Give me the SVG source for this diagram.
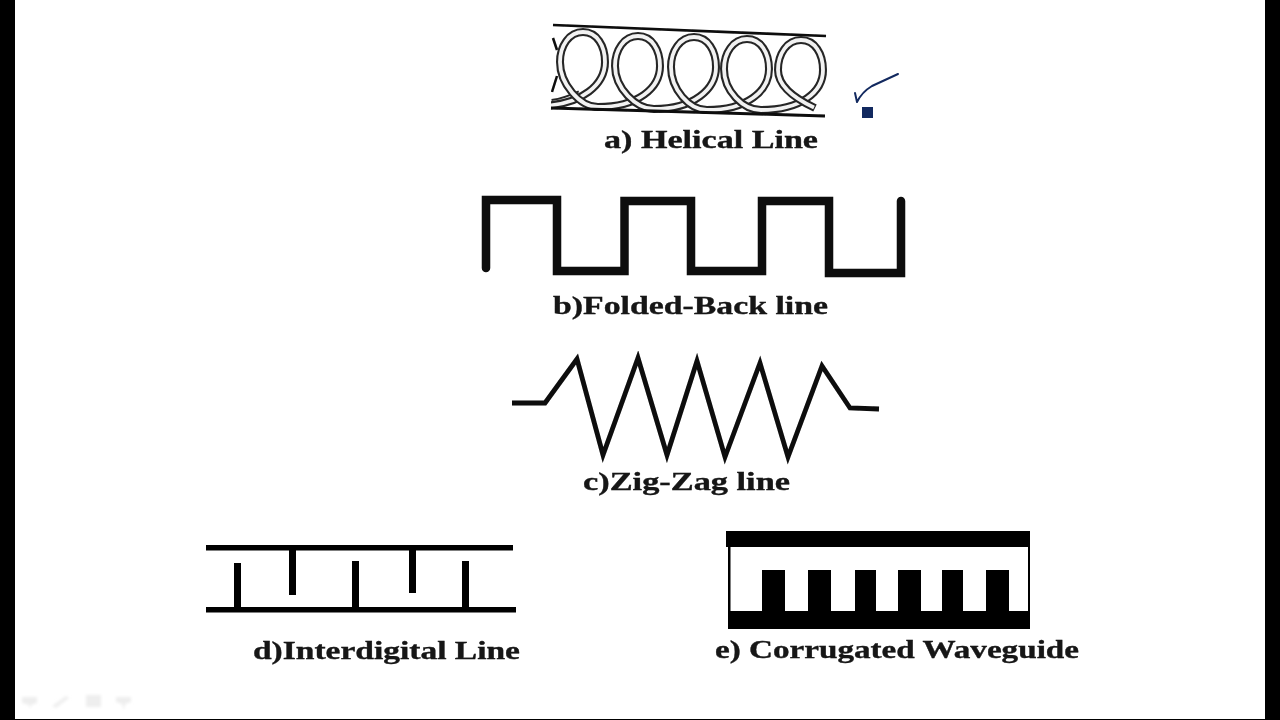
<svg xmlns="http://www.w3.org/2000/svg" width="1280" height="720" viewBox="0 0 1280 720">
<style>
.lbl{font-family:"Liberation Serif","Times New Roman",serif;font-weight:700;font-size:25px;fill:#141414;stroke:#141414;stroke-width:.35}
.line{fill:none;stroke:#0a0a0a;stroke-linejoin:miter}
.solid{fill:#050505}
.o{fill:none;stroke:#262626;stroke-width:8}
.i{fill:none;stroke:#f2f2f2;stroke-width:3.8}
.icon{fill:#eeeeee}
</style>
<defs>
<filter id="soft" x="-5%" y="-5%" width="110%" height="110%"><feGaussianBlur stdDeviation="0.55"/></filter>
<filter id="softer" x="-30%" y="-30%" width="160%" height="160%"><feGaussianBlur stdDeviation="1.6"/></filter>
<clipPath id="coilclip"><rect x="551" y="20" width="285" height="100"/></clipPath>
</defs>
<rect width="1280" height="720" fill="#ffffff"/>
<rect x="0" y="0" width="15" height="720" fill="#000"/>
<rect x="1265" y="0" width="15" height="720" fill="#000"/>
<rect x="0" y="719" width="1280" height="1" fill="#000"/>
<g id="footer-icons" filter="url(#softer)">
<path class="icon" d="M22 697h15v6l-6 2-1 4-1-4-7-2z"/>
<path class="icon" d="M52 706l14-10 3 2-13 10z"/>
<rect class="icon" x="86" y="695" width="15" height="12"/>
<path class="icon" d="M116 697h15v5l-6 2-1 6-2-6-6-2z"/>
</g>
<g id="helical" filter="url(#soft)">
<g clip-path="url(#coilclip)">
<path class="line" stroke-width="2.500" d="M553 38L557 50M557 76L552 92"/>
<path class="o" d="M552 103Q565 101 580 94"/><path class="i" d="M552 103Q565 101 580 94"/>
<path class="o" d="M560 62C560 46 569 32 583 32C597 32 605 46 605 62C605 84 583 104 543 106"/><path class="i" d="M560 62C560 46 569 32 583 32C597 32 605 46 605 62C605 84 583 104 543 106"/>
<path class="o" d="M615 66C615 50 624 36 638 36C652 36 660 50 660 66C660 88 638 107 598 107C580 107 560 84 560 62"/><path class="i" d="M615 66C615 50 624 36 638 36C652 36 660 50 660 66C660 88 638 107 598 107C580 107 560 84 560 62"/>
<path class="o" d="M671 67C671 51 680 37 694 37C708 37 716 51 716 67C716 89 694 109 654 109C636 109 615 88 615 66"/><path class="i" d="M671 67C671 51 680 37 694 37C708 37 716 51 716 67C716 89 694 109 654 109C636 109 615 88 615 66"/>
<path class="o" d="M724 69C724 53 733 39 747 39C761 39 769 53 769 69C769 91 747 110 707 110C689 110 671 89 671 67"/><path class="i" d="M724 69C724 53 733 39 747 39C761 39 769 53 769 69C769 91 747 110 707 110C689 110 671 89 671 67"/>
<path class="o" d="M778 70C778 54 787 40 801 40C815 40 823 54 823 70C823 92 801 110 761 110C743 110 724 91 724 69"/><path class="i" d="M778 70C778 54 787 40 801 40C815 40 823 54 823 70C823 92 801 110 761 110C743 110 724 91 724 69"/>
<path class="o" d="M778 70C778 88 798 100 815 108"/><path class="i" d="M778 70C778 88 798 100 814 107.500"/>
</g>
<path class="line" stroke-width="2.600" d="M553 25L826 36"/>
<path class="line" stroke-width="3" d="M551 108L825 116"/>
<text class="lbl" x="604" y="148" textLength="214" lengthAdjust="spacingAndGlyphs">a) Helical Line</text>
</g>
<g id="pen-mark">
<path d="M898 74L872 86Q862 92 857 102L855 93" fill="none" stroke="#12295f" stroke-width="2" stroke-linecap="round" stroke-linejoin="round"/>
<rect x="862" y="107" width="11" height="11" fill="#12295f"/>
</g>
<g id="folded-back" filter="url(#soft)">
<path class="line" stroke-width="8.500" stroke-linecap="round" d="M486 268V200H557V271H624.500V201H691V271H762V201H829V273H901V201"/>
<text class="lbl" x="553" y="314" textLength="275" lengthAdjust="spacingAndGlyphs">b)Folded-Back line</text>
</g>
<g id="zigzag" filter="url(#soft)">
<path class="line" stroke-width="4.800" stroke-linejoin="round" d="M512 403H545L577 359L603 455L638 358L667 455L697 361L725 457L760 363L788 457L822 366L850 408L879 409"/>
<text class="lbl" x="583" y="490" textLength="207" lengthAdjust="spacingAndGlyphs">c)Zig-Zag line</text>
</g>
<g id="interdigital" filter="url(#soft)">
<rect class="solid" x="206" y="545" width="307" height="5.500"/>
<rect class="solid" x="206" y="607" width="310" height="5.500"/>
<rect class="solid" x="234" y="563" width="7" height="45"/>
<rect class="solid" x="289" y="549" width="7" height="46"/>
<rect class="solid" x="352" y="561" width="7" height="47"/>
<rect class="solid" x="409" y="549" width="7" height="44"/>
<rect class="solid" x="462" y="561" width="7" height="47"/>
<text class="lbl" x="253" y="658.500" textLength="267" lengthAdjust="spacingAndGlyphs">d)Interdigital Line</text>
</g>
<g id="corrugated" filter="url(#soft)">
<rect class="solid" x="726" y="531" width="304" height="16"/>
<rect class="solid" x="728" y="545" width="2.500" height="68"/>
<rect class="solid" x="1028" y="545" width="2" height="68"/>
<rect class="solid" x="728" y="611" width="302" height="18"/>
<rect class="solid" x="762" y="570" width="23" height="43"/>
<rect class="solid" x="808" y="570" width="23" height="43"/>
<rect class="solid" x="855" y="570" width="21" height="43"/>
<rect class="solid" x="898" y="570" width="23" height="43"/>
<rect class="solid" x="942" y="570" width="21" height="43"/>
<rect class="solid" x="986" y="570" width="23" height="43"/>
<text class="lbl" x="715" y="658" textLength="364" lengthAdjust="spacingAndGlyphs">e) Corrugated Waveguide</text>
</g>
</svg>
